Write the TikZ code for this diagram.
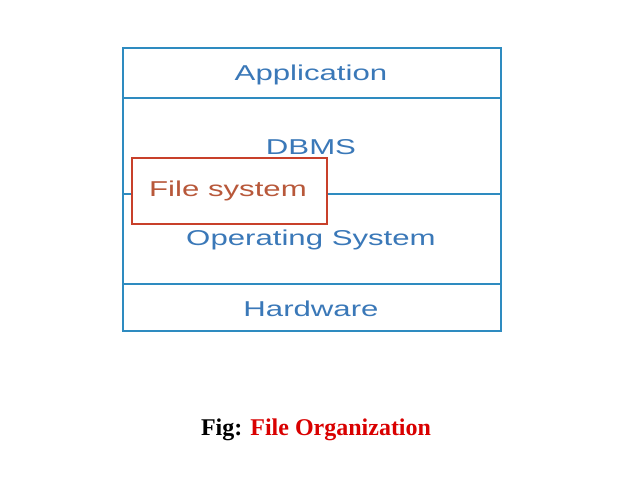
\documentclass[tikz,border=0pt]{standalone}
\usepackage{fontspec}
\setmainfont{Liberation Serif}
\newfontfamily\arialf{Liberation Sans}
\definecolor{lineblue}{HTML}{2E8BC0}
\definecolor{txtblue}{HTML}{3A78B8}
\definecolor{boxred}{HTML}{C8402A}
\definecolor{txtred}{HTML}{B8583A}
\begin{document}
\begin{tikzpicture}[x=1pt,y=-1pt,
  lay/.style={font=\arialf\fontsize{21.5}{21.5}\selectfont, text=txtblue, xscale=1.45, transform shape, inner sep=0pt},
  ln/.style={draw=lineblue, line width=1.3pt}]
\useasboundingbox (0,0) rectangle (638,478);
\fill[white] (0,0) rectangle (638,478);
\draw[ln] (123,48) rectangle (501,331);
\coordinate (l1) at (123,98); \coordinate (r1) at (501,98);
\coordinate (l2) at (123,194); \coordinate (r2) at (501,194);
\coordinate (l3) at (123,284); \coordinate (r3) at (501,284);
\draw[ln] (l1) -- (r1);
\draw[ln] (l2) -- (r2);
\draw[ln] (l3) -- (r3);
\node[draw=boxred, line width=1.8pt, fill=white, minimum width=195pt, minimum height=66pt, anchor=north west, inner sep=0pt] (fs) at (131,157) {};
\node[lay, text=txtred] (fst) at (228,191) {File system};
\node[lay] (app) at (311,75) {Application};
\node[lay] (dbms) at (311,147) {DBMS};
\node[lay] (os) at (311,240) {Operating System};
\node[lay] (hw) at (311,309) {Hardware};
\node[font=\bfseries\fontsize{24}{24}\selectfont] (cap) at (316,430) {Fig: \textcolor{red!85!black}{File Organization}};
\end{tikzpicture}
\end{document}
